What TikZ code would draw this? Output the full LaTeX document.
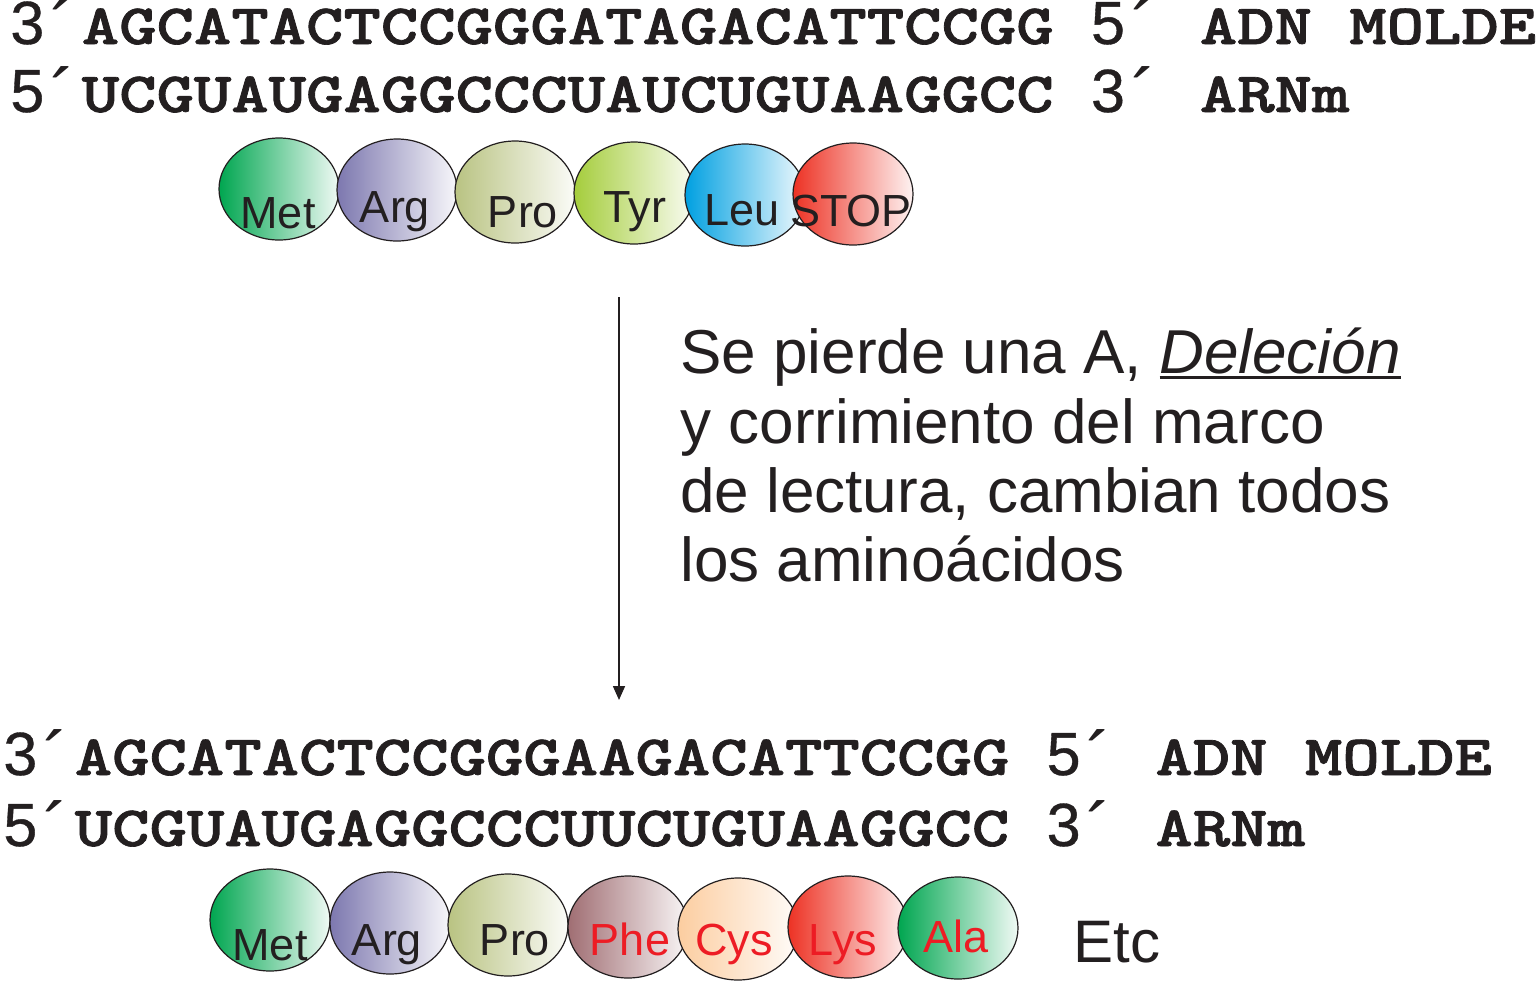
\documentclass[tikz,border=0pt]{standalone}
\usepackage{graphicx}
\usepackage{fontspec}
\setmainfont{Liberation Sans}
\newfontfamily\arialf{Liberation Sans}
\newfontfamily\digf{Liberation Sans}[FakeBold=0.6]
\newfontfamily\lmttb{lmmonolt10-bold.otf}[FakeBold=1.2]
\usetikzlibrary{shapes.geometric,arrows.meta}
\definecolor{txt}{RGB}{35,31,32}
\definecolor{redtxt}{RGB}{237,28,36}
\definecolor{cMet}{RGB}{0,166,80}
\definecolor{cArg}{RGB}{125,120,175}
\definecolor{cPro}{RGB}{185,195,130}
\definecolor{cTyr}{RGB}{165,205,60}
\definecolor{cLeu}{RGB}{0,160,225}
\definecolor{cStop}{RGB}{237,50,36}
\definecolor{cPhe}{RGB}{160,110,115}
\definecolor{cCys}{RGB}{252,205,160}
\definecolor{cLys}{RGB}{237,50,36}
\definecolor{cAla}{RGB}{0,166,80}
\newcommand\dig[1]{{\fontsize{30.5}{30.5}\selectfont\digf #1}}
\newcommand\acu{\makebox[18.74pt][c]{\smash{\raisebox{-5pt}{\fontsize{38}{38}\selectfont\arialf ´}}}}
\newcommand\sq[1]{\scalebox{1}[0.8]{\fontsize{35.6}{35.6}\selectfont\lmttb #1}}
\newcommand\myul[1]{\setbox0=\hbox{#1}\rlap{\rule[-3pt]{\wd0}{1.4pt}}\box0}
\tikzset{
  seqtxt/.style={anchor=base west, inner sep=0pt, text=txt},
  paratxt/.style={anchor=base west, inner sep=0pt, text=txt,
    font=\fontsize{31}{31}\selectfont\arialf},
  ball/.style={ellipse, draw=txt, line width=0.6pt, inner sep=0pt,
    minimum width=60pt, minimum height=51pt, left color=#1, right color=#1!6!white},
  aalab/.style={anchor=base, inner sep=0pt, text=txt,
    font=\fontsize{22.5}{22.5}\selectfont\arialf},
  aared/.style={aalab, text=redtxt},
}
\begin{document}
\begin{tikzpicture}[x=0.5pt,y=-0.5pt]
\useasboundingbox[fill=white] (0,0) rectangle (1536,981);
% top sequences
\node[seqtxt] (dna1) at (10,44) {\dig{3}\acu\sq{AGCATACTCCGGGATAGACATTCCGG }\dig{5}\acu\sq{ ADN MOLDE}};
\node[seqtxt] (arn1) at (10,112) {\dig{5}\acu\sq{UCGUAUGAGGCCCUAUCUGUAAGGCC }\dig{3}\acu\sq{ ARNm}};
% top balls
\node[ball=cMet] (b1) at (279,189) {};
\node[aalab] (l1) at (278,228) {Met};
\node[ball=cArg] (b2) at (397,190) {};
\node[aalab] (l2) at (395,222) {Arg};
\node[ball=cPro] (b3) at (515,192) {};
\node[aalab] (l3) at (523,227) {Pro};
\node[ball=cTyr] (b4) at (634,193) {};
\node[aalab] (l4) at (635,222) {Tyr};
\node[ball=cLeu] (b5) at (745,195) {};
\node[aalab] (l5) at (742,225) {Leu};
\node[ball=cStop] (b6) at (853,194) {};
\node[aalab] (l6) at (851,226) {STOP};
% arrow
\coordinate (atop) at (619,297);
\coordinate (abot) at (619,700);
\draw[line width=0.8pt, draw=txt, -{Triangle[length=7pt,width=6pt]}] (atop) -- (abot);
% paragraph
\node[paratxt] (p1) at (680,373) {Se pierde una A, \myul{\itshape Deleción}};
\node[paratxt] (p2) at (680,443) {y corrimiento del marco};
\node[paratxt] (p3) at (680,512) {de lectura, cambian todos};
\node[paratxt] (p4) at (680,581) {los aminoácidos};
% bottom sequences
\node[seqtxt] (dna2) at (3,775) {\dig{3}\acu\sq{AGCATACTCCGGGAAGACATTCCGG }\dig{5}\acu\sq{ ADN MOLDE}};
\node[seqtxt] (arn2) at (3,846) {\dig{5}\acu\sq{UCGUAUGAGGCCCUUCUGUAAGGCC }\dig{3}\acu\sq{ ARNm}};
% bottom balls
\node[ball=cMet] (c1) at (270,920) {};
\node[aalab] (m1) at (270,960) {Met};
\node[ball=cArg] (c2) at (390,923) {};
\node[aalab] (m2) at (387,955) {Arg};
\node[ball=cPro] (c3) at (508,925) {};
\node[aalab] (m3) at (515,955) {Pro};
\node[ball=cPhe] (c4) at (628,927) {};
\node[aared] (m4) at (630,955) {Phe};
\node[ball=cCys] (c5) at (738,929) {};
\node[aared] (m5) at (734,955) {Cys};
\node[ball=cLys] (c6) at (848,927) {};
\node[aared] (m6) at (843,955) {Lys};
\node[ball=cAla] (c7) at (958,928) {};
\node[aared] (m7) at (956,952) {Ala};
\node[anchor=base west, inner sep=0pt, text=txt, font=\fontsize{30}{30}\selectfont\arialf] (etc) at (1073,962) {Etc};
\end{tikzpicture}
\end{document}
